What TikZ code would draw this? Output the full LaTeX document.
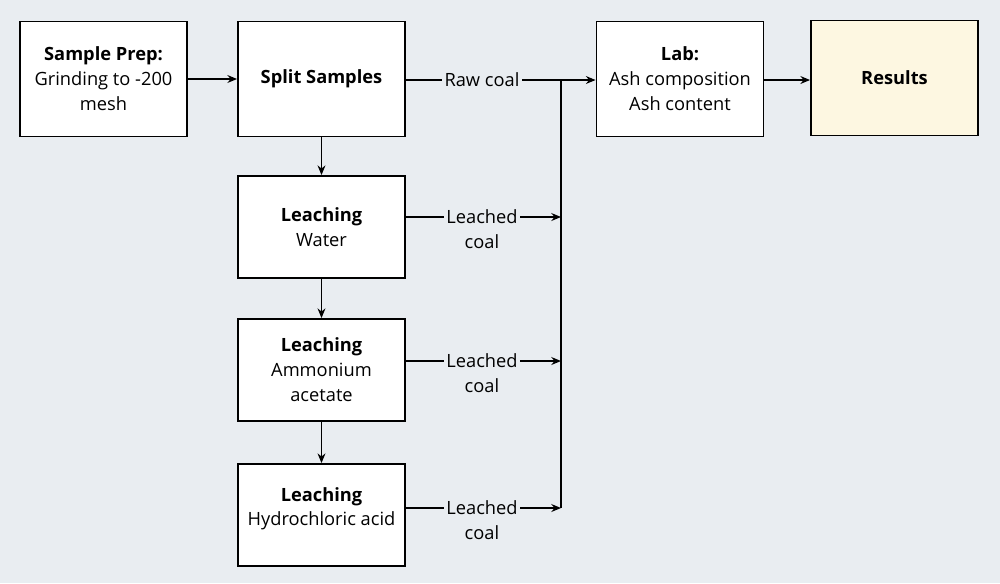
\documentclass[tikz,border=0pt]{standalone}
\usepackage{fontspec}
\setmainfont{Open Sans}
\usetikzlibrary{arrows.meta,calc}
\definecolor{backdrop}{HTML}{E9EDF1}
\definecolor{highlight}{HTML}{FDF7E1}

\begin{document}
\begin{tikzpicture}[x=.02cm, y=-.02cm, font=\fontsize{10.4}{14.2}\selectfont,
    stage/.style={draw, line width=1.1pt, fill=white, align=center,
      minimum width=3.34cm, minimum height=2.3cm},
    short/.style={minimum height=2.04cm},
    flow/.style={line width=.8pt, -{Stealth[length=5.5pt, width=4.5pt]}},
    tag/.style={fill=backdrop, inner sep=1.5pt, align=center}]
  \fill[backdrop] (0,0) rectangle (1000,583);

  % main line
  \node[stage] (prep) at (103.5,79) {\textbf{Sample Prep:}\\Grinding to -200\\mesh};
  \node[stage] (split) at (321.5,79) {\textbf{Split Samples}};
  \node[stage] (lab) at (680,79) {\textbf{Lab:}\\Ash composition\\Ash content};
  \node[stage, fill=highlight] (results) at (894.5,78) {\textbf{Results}};

  % leaching column
  \node[stage, short] (water) at (321.5,227) {\textbf{Leaching}\\Water};
  \node[stage, short] (ammonium) at (321.5,370) {\textbf{Leaching}\\Ammonium\\acetate};
  \node[stage, short] (hcl) at (321.5,515) {\textbf{Leaching}\\Hydrochloric acid\\[-4.6pt]\mbox{}};

  \coordinate (bustop) at (561,80);
  \coordinate (busend) at (561,508);

  \draw[flow] (prep) -- (split);
  \draw[flow] (split) -- (water);
  \draw[flow] (water) -- (ammonium);
  \draw[flow] (ammonium) -- (hcl);

  \draw[line width=.8pt] (bustop) -- (busend);
  \draw[flow] (split.east |- bustop) -- (lab.west |- bustop);
  \node[tag] (raw) at (482,80) {Raw coal};
  \draw[flow] (lab.east |- bustop) -- (results.west |- bustop);

  \foreach \src/\yy in {water/217, ammonium/361, hcl/508} {
    \draw[flow] (\src.east |- 0,\yy) -- (bustop |- 0,\yy);
    \node[tag] (leached-\src) at (482,\yy+12.5) {Leached\\coal};
  }
\end{tikzpicture}
\end{document}
